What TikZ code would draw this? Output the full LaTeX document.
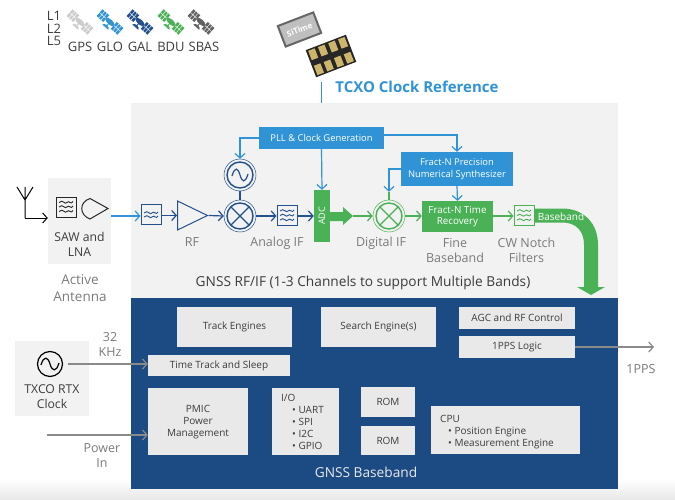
\documentclass[tikz,border=0pt]{standalone}
\usepackage{fontspec}
\setmainfont{Open Sans}
\usepackage{xcolor}
\usepackage{tikz}
\usetikzlibrary{arrows.meta, calc, shapes.geometric}

\definecolor{navy}{HTML}{1C4A82}
\definecolor{linenavy}{HTML}{24508E}
\definecolor{skyblue}{HTML}{2F93D6}
\definecolor{leaf}{HTML}{4BB157}
\definecolor{panel}{HTML}{F2F2F2}
\definecolor{tile}{HTML}{E9E9E9}
\definecolor{inktext}{HTML}{3C3C3C}
\definecolor{softtext}{HTML}{7A7A7A}
\definecolor{wire}{HTML}{8A8A8A}
\definecolor{padgold}{HTML}{CDB56C}

% wavy lines inside a filter box
\newcommand{\waves}[3]{
	\foreach \dy in {#3} {
		\draw [#2,line width=0.9pt] ($(#1)+(-7,\dy)$) .. controls ($(#1)+(-3,\dy-4)$) and ($(#1)+(-1,\dy+3)$) .. ($(#1)+(1,\dy)$) .. controls ($(#1)+(3,\dy-3)$) and ($(#1)+(5,\dy+3)$) .. ($(#1)+(7,\dy-1)$);
	}
}
% sine inside an oscillator: node, half width, colour
\newcommand{\sine}[3]{
	\draw [#3,line width=1.2pt] ($(#1)+(-#2,1)$) .. controls ($(#1)+(-#2+3,-9)$) and ($(#1)+(-2,-7)$) .. (#1.center) .. controls ($(#1)+(2,7)$) and ($(#1)+(#2-3,9)$) .. ($(#1)+(#2,-1)$);
}
% satellite icon: centre x, centre y, colour
\newcommand{\satellite}[3]{
	\begin{scope}[shift={(#1,#2)},rotate=-42]
		\foreach \sx in {-9.5,9.5} {
			\fill [#3] (\sx-4.5,-4.5) rectangle (\sx+4.5,4.5);
			\draw [white,line width=0.4pt] (\sx-1.5,-4.5) -- (\sx-1.5,4.5) (\sx+1.5,-4.5) -- (\sx+1.5,4.5) (\sx-4.5,0) -- (\sx+4.5,0);
		}
		\fill [#3] (0,0) ellipse (5.5 and 2.6);
		\fill [#3] (-4,7) arc (180:360:4 and 2.6) -- cycle;
		\draw [#3,line width=1pt] (0,2) -- (0,6);
	\end{scope}
}

\begin{document}
\begin{tikzpicture}[
x=1pt, y=-1pt,
>={Straight Barb[length=4.5pt,width=10pt]},
every node/.style={font=\fontsize{10}{12}\selectfont,text=inktext,align=center,inner sep=0pt},
bluebox/.style={fill=skyblue,text=white,font=\fontsize{9.4}{11.5}\selectfont},
greenbox/.style={fill=leaf,text=white,font=\fontsize{9.8}{11.5}\selectfont},
softlabel/.style={font=\fontsize{12.5}{15}\selectfont,text=softtext},
darklabel/.style={font=\fontsize{12.2}{15}\selectfont,text=inktext},
starlabel/.style={font=\fontsize{13}{15}\selectfont,text=inktext},
navyline/.style={->,linenavy,line width=1.2pt},
skyline/.style={->,skyblue,line width=1.2pt},
leafline/.style={->,leaf,line width=1.2pt},
greyline/.style={->,wire,line width=1.2pt},
filterbox/.style={draw=linenavy,line width=1pt,minimum width=20pt,minimum height=20pt},
ring/.style={circle,draw=#1,line width=0.5pt,minimum size=32pt},
mixer/.style={circle,draw=#1,line width=1.4pt,minimum size=26pt,
	path picture={\draw [#1,line width=1.4pt] (path picture bounding box.north west) -- (path picture bounding box.south east) (path picture bounding box.north east) -- (path picture bounding box.south west);}},
]
\useasboundingbox (0,0) rectangle (675,500);

\shade [top color=white,bottom color=black!9,draw=none] (0,478) rectangle (675,500);

\node [fill=panel,minimum width=487pt,minimum height=195pt] (rfpanel) at (374.5,200.5) {};
\node [fill=navy,minimum width=487pt,minimum height=191pt] (bbpanel) at (374.5,393.5) {};

% constellations
\node (lone) at (54,16) [starlabel] {L1};
\node (ltwo) at (54,28.5) [starlabel] {L2};
\node (lfive) at (54,41) [starlabel] {L5};
\satellite{80}{22}{black!20}
\satellite{110}{22}{skyblue}
\satellite{140}{22}{linenavy}
\satellite{171}{22}{leaf}
\satellite{201}{22}{black!62}
\node (gps) at (80,47) [starlabel] {GPS};
\node (glo) at (110,47) [starlabel] {GLO};
\node (gal) at (140,47) [starlabel] {GAL};
\node (bdu) at (171,47) [starlabel] {BDU};
\node (sbas) at (204,47) [starlabel] {SBAS};

% clock parts
\node (chiptop) at (299.5,29.5) [rotate=21,draw=black!60,line width=2pt,fill=black!25,minimum width=38pt,minimum height=22pt,font=\fontsize{8}{9}\selectfont\bfseries,text=white] {SiTime};
\node (chipback) at (331,56) [rotate=21,fill=black!85,minimum width=43pt,minimum height=29pt] {};
\begin{scope}[shift={(331,56)},rotate=21]
	\foreach \px in {-16,-5.5,5.5,16} {
		\fill [padgold] (\px-3.5,-13) rectangle (\px+3.5,-3);
		\fill [padgold] (\px-3.5,3) rectangle (\px+3.5,13);
	}
\end{scope}
\node (tcxo) at (417,87) [font=\fontsize{15}{17}\selectfont\bfseries,text=skyblue] {TCXO Clock Reference};
\coordinate (tcxofoot) at (321.5,82);
\draw [skyblue,line width=1.2pt] (tcxofoot) -- (tcxofoot |- rfpanel.north);

% antenna
\node [fill=panel,minimum width=63pt,minimum height=86pt] (saw) at (79.5,221) {};
\coordinate (mast) at (25,187);
\coordinate (armleft) at (17,187);
\coordinate (armright) at (33,187);
\coordinate (mastfoot) at (25,218);
\draw [black,line width=1pt] (armleft) -- (25,200) -- (armright) (mast) -- (mastfoot);
\draw [->,black,line width=1pt] (mastfoot) -- (saw.west |- mastfoot);
\node [draw=black!85,line width=1pt,minimum width=20pt,minimum height=20pt] (sawfilter) at (66,207) {};
\waves{sawfilter}{black!85}{-4.5,0,4.5}
\draw [black!85,line width=1pt] (90,198.5) -- (108,208.5) -- (90,219) .. controls (79,215) and (79,202) .. cycle;
\node (sawtext) at (79.5,244.5) [darklabel] {SAW and\\LNA};
\node (activeant) at (80,288.5) [softlabel,font=\fontsize{13.5}{17}\selectfont] {Active\\Antenna};

% RF chain
\node [filterbox] (rffilter) at (151,214.5) {};
\waves{rffilter}{linenavy}{-1.5,2.5}
\node [isosceles triangle,isosceles triangle apex angle=55,isosceles triangle stretches,draw=linenavy,line width=1pt,minimum width=29pt,minimum height=30pt,anchor=lower side] (rfamp) at (177,215.5) {};
\node [ring=linenavy] (osc) at (240,175) {};
\node [circle,draw=linenavy,line width=1.4pt,minimum size=26pt] (oscin) at (osc) {};
\sine{osc}{8}{linenavy}
\node [ring=linenavy] (mixa) at (240,216) {};
\node [mixer=linenavy] (mixain) at (mixa) {};
\node [filterbox] (iffilter) at (287,215.5) {};
\waves{iffilter}{linenavy}{-4.5,0,4.5}
\node [fill=leaf,minimum width=16pt,minimum height=52pt] (adc) at (322,216) {};
\node [rotate=90,text=white,font=\fontsize{9}{10}\selectfont] (adclabel) at (322,216) {ADC};
\node [ring=leaf] (mixb) at (389,216) {};
\node [mixer=leaf] (mixbin) at (mixb) {};
\node [greenbox,minimum width=71pt,minimum height=31pt] (finebox) at (457.5,216.5) {Fract-N Time\\Recovery};
\node [draw=leaf,fill=panel,line width=1pt,minimum width=20pt,minimum height=20pt] (notch) at (524,215.5) {};
\waves{notch}{leaf}{-4.5,0,4.5}

\draw [skyline] (saw.east |- 0,216) -- (rffilter.west |- 0,216);
\draw [navyline] (rffilter.east |- rfamp.lower side) -- (rfamp.lower side);
\draw [navyline] (rfamp.apex) -- (mixa.west);
\draw [linenavy,line width=1.2pt] (osc.south) -- (mixa.north);
\draw [navyline] (mixa.east) -- (iffilter.west |- mixa.east);
\draw [navyline] (iffilter.east |- mixa.east) -- (adc.west |- mixa.east);
\draw [leafline] (mixb.east) -- (finebox.west |- mixb.east);
\draw [leafline] (finebox.east |- mixb.east) -- (notch.west |- mixb.east);

% thick arrows
\coordinate (adctip) at (353,216);
\fill [leaf] (adc.east |- 0,212) -- (343,212) -- (343,207) -- (adctip) -- (343,225) -- (343,221) -- (adc.east |- 0,221) -- cycle;
\draw [leafline] (adctip) -- (mixb.west);
\coordinate (bandend) at (591,288);
\draw [leaf,line width=14pt] (notch.east) -- (562,215.5) .. controls (580,215.5) and (591,227) .. (591,245) -- (bandend);
\fill [leaf] (577,287) -- (605,287) -- (591,295) -- cycle;
\node [text=white] (bandtext) at (561,217) {Baseband};

% clocks
\node [bluebox,minimum width=125pt,minimum height=22pt] (pll) at (321.5,138) {PLL \& Clock Generation};
\node [bluebox,minimum width=112pt,minimum height=34pt] (synth) at (457,169) {Fract-N Precision\\Numerical Synthesizer};
\draw [skyline] (pll.west) -| (osc.north);
\draw [skyline] (pll.south) -- (adc.north);
\draw [skyline] ([yshift=3pt]pll.east) -| (synth.north);
\draw [leaf,line width=1.2pt] (mixb.north) -- ++(0,-8);
\draw [skyline] (synth.west) -| ($(mixb.north)+(0,-8)$);
\draw [skyline] (synth.south) -- (finebox.north);

% chain labels
\node (rflabel) at (192,242.5) [softlabel] {RF};
\node (analogif) at (277,243) [softlabel] {Analog IF};
\node (digitalif) at (381,243) [softlabel] {Digital IF};
\node (finelabel) at (455,250.5) [softlabel] {Fine\\Baseband};
\node (cwlabel) at (526.5,250.5) [softlabel] {CW Notch\\Filters};
\node (rftitle) at (363,283) [font=\fontsize{13.7}{16}\selectfont,text=inktext] {GNSS RF/IF (1-3 Channels to support Multiple Bands)};

% baseband blocks
\node [fill=tile,minimum width=115pt,minimum height=40pt] (track) at (234.5,327) {\raisebox{-1pt}{Track Engines}};
\node [fill=tile,minimum width=115pt,minimum height=40pt] (search) at (378.5,327) {\raisebox{-1pt}{Search Engine(s)}};
\node [fill=tile,minimum width=116pt,minimum height=22pt] (agc) at (517,318) {AGC and RF Control};
\node [fill=tile,minimum width=116pt,minimum height=22pt] (pps) at (517,347) {1PPS Logic};
\node [fill=tile,minimum width=142pt,minimum height=21pt] (sleep) at (219,365.5) {Time Track and Sleep};
\node [fill=tile,minimum width=100pt,minimum height=67pt] (pmic) at (198,421.5) {};
\node (pmictext) at (198,422.5) {PMIC\\Power\\Management};
\node [fill=tile,minimum width=67pt,minimum height=67pt] (io) at (305.5,421.5) {};
\node [anchor=north west,align=left] (iotext) at (281,394.5) {I/O\\\hspace{11pt}• UART\\\hspace{11pt}• SPI\\\hspace{11pt}• I2C\\\hspace{11pt}• GPIO};
\node [fill=tile,minimum width=54pt,minimum height=30pt] (romtop) at (388,402) {ROM};
\node [fill=tile,minimum width=54pt,minimum height=29pt] (rombot) at (388,440.5) {ROM};
\node [fill=tile,minimum width=149pt,minimum height=48pt] (cpu) at (505.5,430) {};
\node [anchor=north west,align=left] (cputext) at (440,415) {CPU\\\hspace{8pt}• Position Engine\\\hspace{8pt}• Measurement Engine};
\node (bbtitle) at (366,472.5) [font=\fontsize{13.7}{16}\selectfont,text=tile] {GNSS Baseband};

% outside the baseband
\coordinate (ppsout) at (654,347);
\draw [greyline] (pps.east) -- (ppsout);
\node (ppslabel) at (641,369) [softlabel] {1PPS};
\node [fill=panel,minimum width=74pt,minimum height=75pt] (rtx) at (52,378.5) {};
\node [circle,draw=black,line width=1.2pt,minimum size=25pt] (rtxosc) at (50,364) {};
\sine{rtxosc}{9}{black}
\node (rtxtext) at (52,396.5) [darklabel] {TXCO RTX\\Clock};
\node (khz) at (110,344.5) [softlabel] {32\\KHz};
\draw [greyline] (rtxosc.east) ++(5,0) -- (sleep.west |- rtxosc.east);
\coordinate (powerin) at (47,435);
\draw [greyline] (powerin) -- (pmic.west |- powerin);
\node (powerlabel) at (102,455.5) [softlabel] {Power\\In};
\end{tikzpicture}
\end{document}
